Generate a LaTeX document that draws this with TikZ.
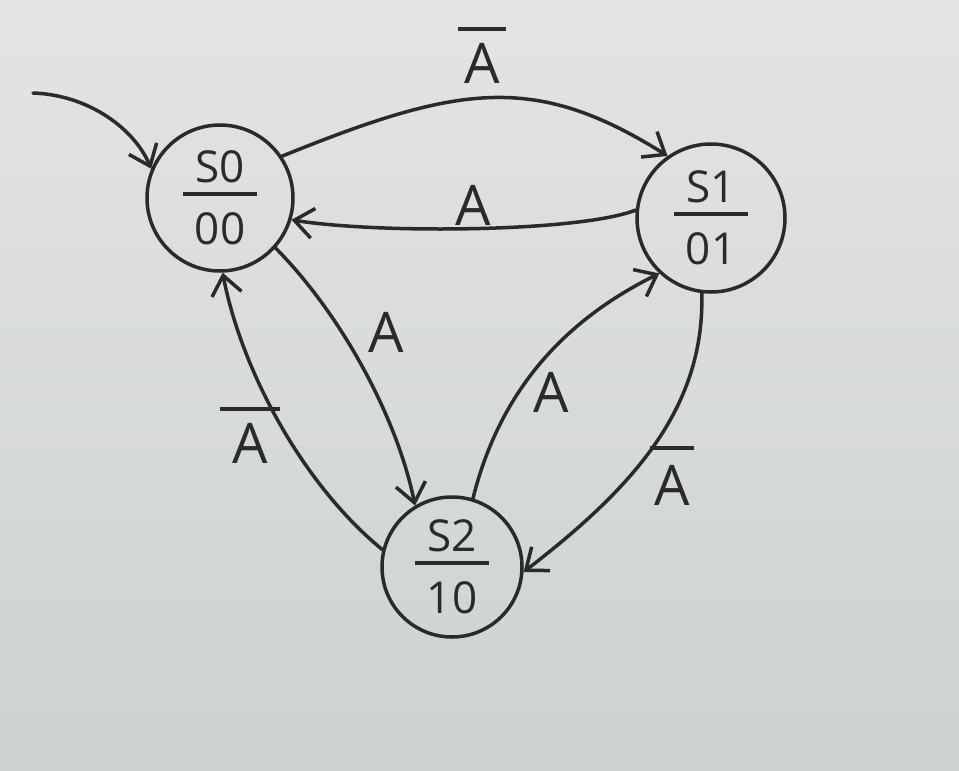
\documentclass[tikz,border=0pt]{standalone}
\usepackage{fontspec}
\setmainfont{Open Sans}
\usetikzlibrary{arrows.meta}
\definecolor{bgtop}{RGB}{226,229,227}
\definecolor{bgbot}{RGB}{206,209,210}
\definecolor{ink}{RGB}{40,42,46}
\newcommand\stt[2]{\vbox{\hbox to 74pt{\hfil #1\hfil}\kern 9pt\hrule height 3.5pt width 74pt\kern 17pt\hbox to 74pt{\hfil #2\hfil}}}
\newcommand\barA[2]{\vbox{\hrule height 3.5pt\kern #2\hbox{\kern#1 A\kern#1}}}
\tikzset{
  statenode/.style={circle, draw=ink, line width=3.5pt, minimum size=#1, inner sep=0pt,
    text=ink, font=\fontsize{44}{48}\selectfont},
  edge/.style={draw=ink, line width=3.5pt, line cap=round,
    -{Straight Barb[length=19pt,width=30pt,line width=3.5pt]}},
  lab/.style={text=ink, inner sep=0pt, font=\fontsize{56}{60}\selectfont, anchor=base}
}
\begin{document}
\begin{tikzpicture}[x=1pt,y=-1pt]
\shade[top color=bgtop, bottom color=bgbot] (0,0) rectangle (959,771);
\useasboundingbox (0,0) rectangle (959,771);
\node[statenode=146pt] (s0) at (220,198) {\stt{S0}{00}};
\node[statenode=148pt] (s1) at (711,218) {\stt{S1}{01}};
\node[statenode=140pt] (s2) at (452,567) {\stt{S2}{10}};
\coordinate (init) at (33,93);
\draw[edge] (init) .. controls (90,95) and (135,130) .. (s0.157);
\draw[edge] (s0.34) .. controls (458,85) and (534,72) .. (s1.125);
\draw[edge] (s1.174) .. controls (580,232) and (380,234) .. (s0.-17);
\draw[edge] (s0.-42) .. controls (341,314) and (397,417) .. (s2.121);
\draw[edge] (s2.166) .. controls (301,483) and (241,368) .. (s0.-88);
\draw[edge] (s2.73) .. controls (500,390) and (565,320) .. (s1.-133);
\draw[edge] (s1.-97) .. controls (705,410) and (630,490) .. (s2.-4);
\node[lab] (l01) at (482,83) {\barA{6pt}{12pt}};
\node[lab] (l10) at (473,225) {A};
\node[lab] (l02) at (386,352) {A};
\node[lab] (l20) at (250,463) {\barA{12pt}{12pt}};
\node[lab] (l21) at (551,412) {A};
\node[lab] (l12) at (672,505) {\barA{4pt}{15pt}};
\end{tikzpicture}
\end{document}
